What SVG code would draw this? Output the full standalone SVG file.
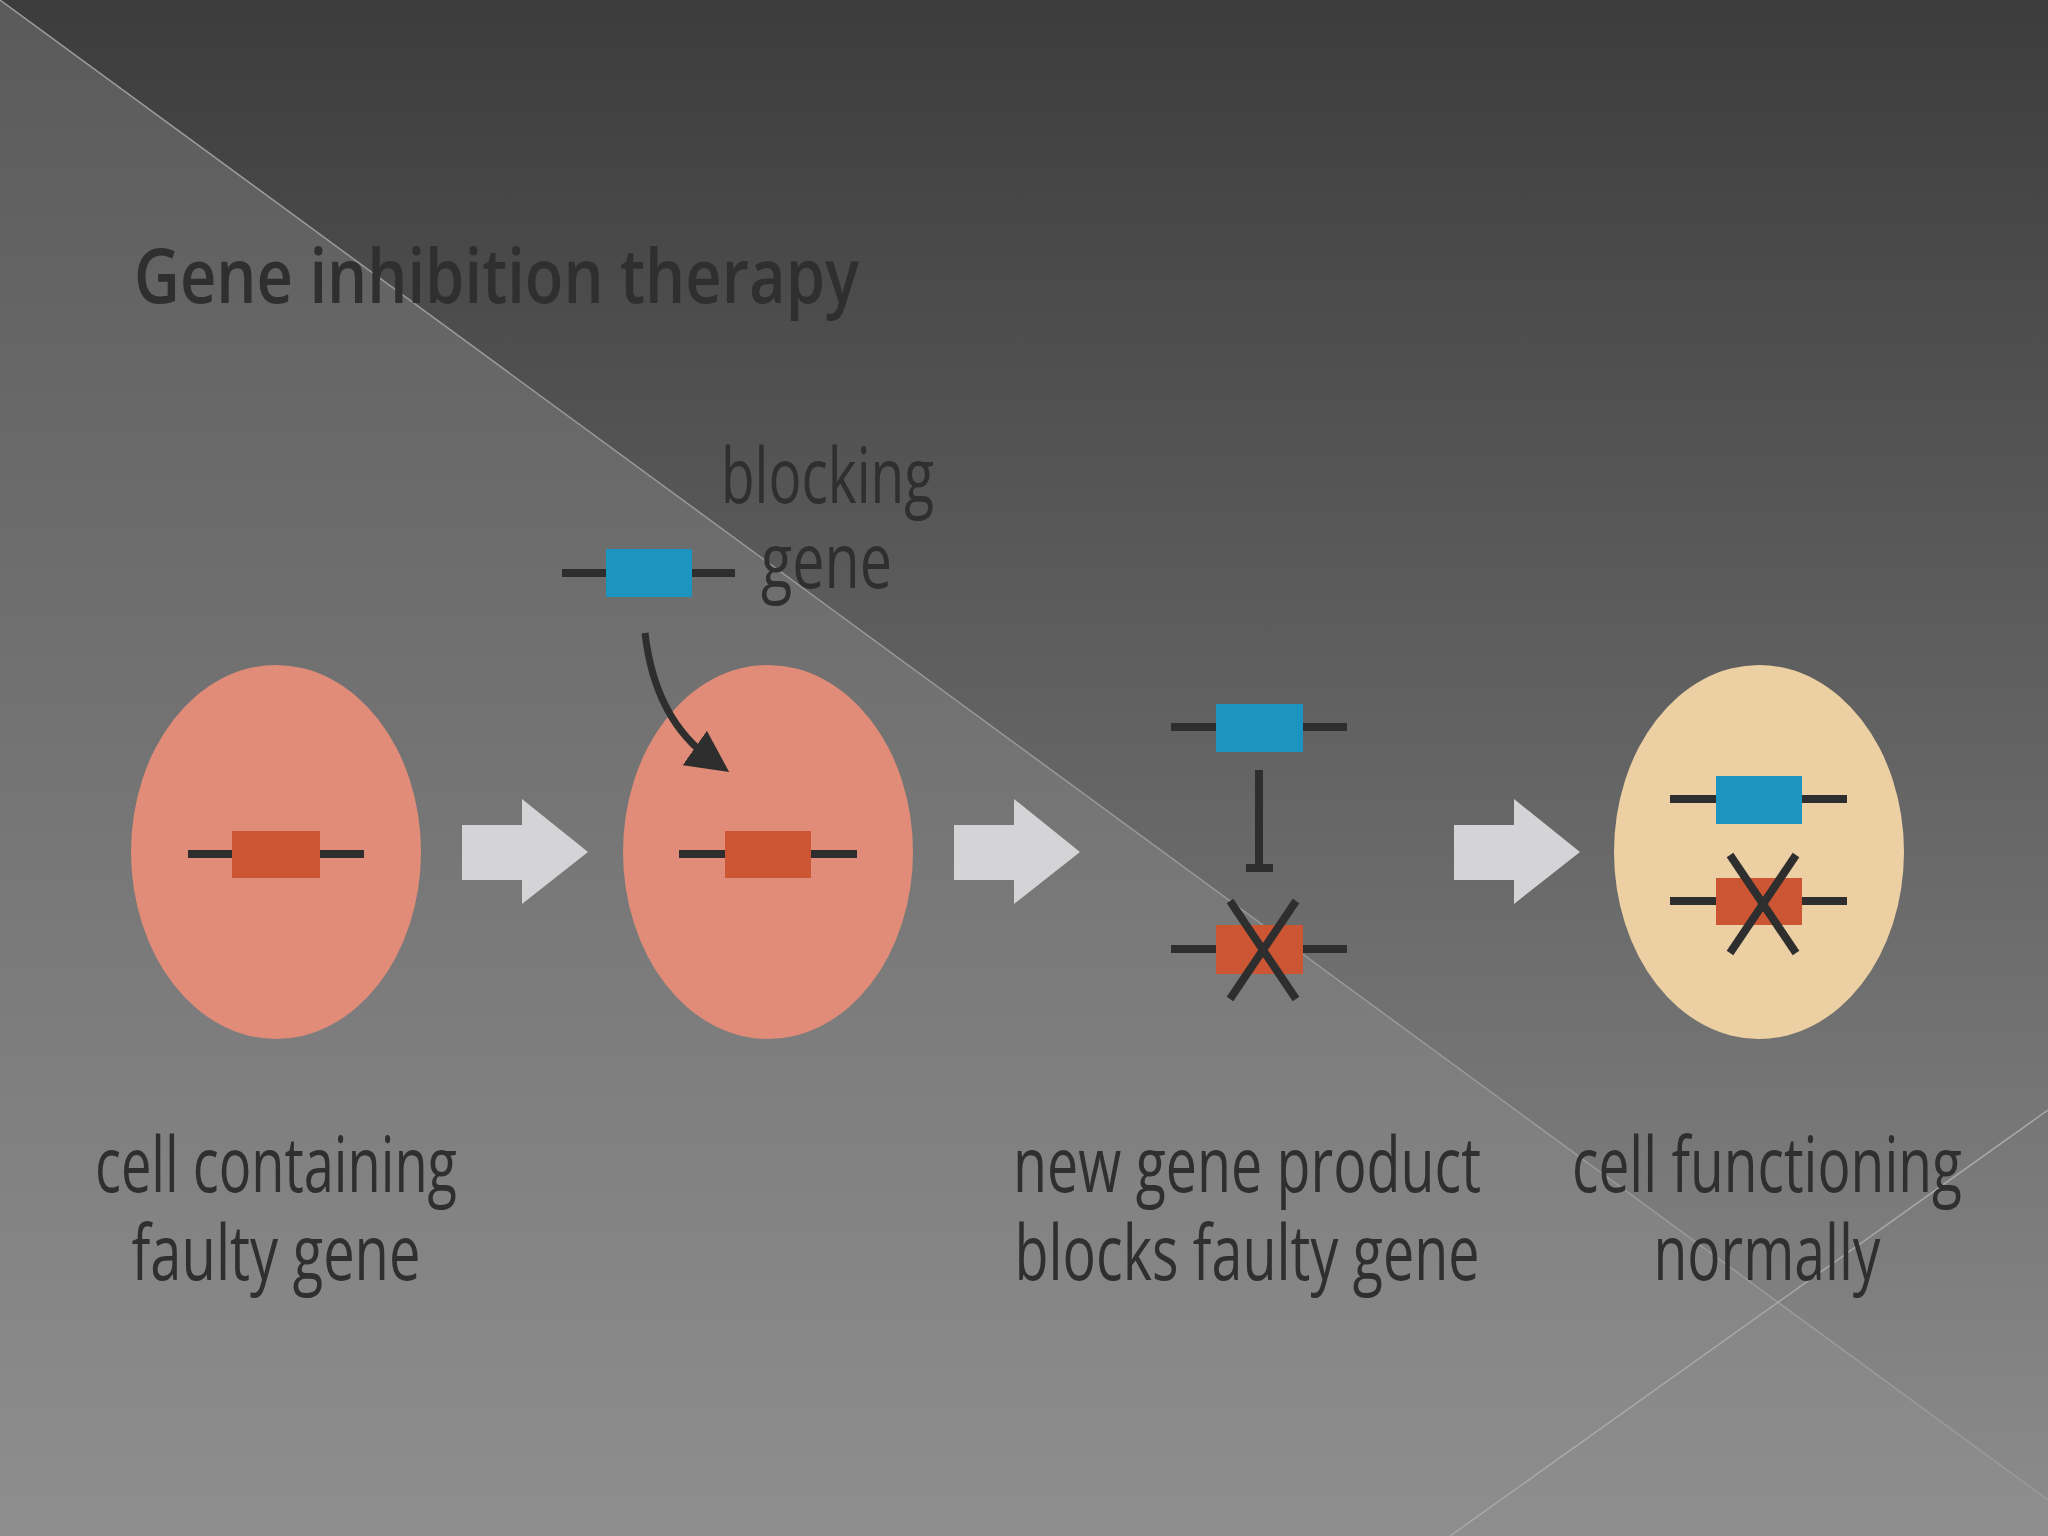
<svg xmlns="http://www.w3.org/2000/svg" width="2048" height="1536" viewBox="0 0 2048 1536">
<defs>
<linearGradient id="bg" x1="0" y1="0" x2="0" y2="1"><stop offset="0" stop-color="#3c3c3c"/><stop offset="1" stop-color="#8c8c8c"/></linearGradient>
<linearGradient id="bg2" x1="0" y1="0" x2="0" y2="1"><stop offset="0" stop-color="#5a5a5a"/><stop offset="1" stop-color="#8e8e8e"/></linearGradient>
<marker id="ah" markerWidth="6" markerHeight="6" refX="3" refY="3" orient="auto" markerUnits="strokeWidth"><path d="M0,0 L6,3 L0,6 z" fill="#2e2e2e"/></marker>
<style>
.t{font-family:"Open Sans","Liberation Sans",sans-serif;fill:#2f2f2f;font-size:76px}
.ln{stroke:#2e2e2e;stroke-width:8}
.red{fill:#cc5634}
.blue{fill:#1b95c0}
.arr{fill:#d4d3d6}
</style>
</defs>
<rect width="2048" height="1536" fill="url(#bg)"/>
<polygon points="0,0 2048,1500 2048,1536 0,1536" fill="url(#bg2)"/>
<line x1="0" y1="0" x2="2048" y2="1500" stroke="#9a9a9a" stroke-width="1.5"/>
<line x1="1450" y1="1536" x2="2048" y2="1110" stroke="#a8a8a8" stroke-width="1.5"/>
<text class="t" x="134" y="303" font-size="84" font-weight="600" textLength="725" lengthAdjust="spacingAndGlyphs">Gene inhibition therapy</text>
<g id="cell1">
<ellipse cx="276" cy="852" rx="145" ry="187" fill="#e08c78"/>
<line class="ln" x1="188" y1="854" x2="364" y2="854"/>
<rect class="red" x="232" y="831" width="88" height="47"/>
</g>
<g id="cell2">
<ellipse cx="768" cy="852" rx="145" ry="187" fill="#e08c78"/>
<line class="ln" x1="679" y1="854" x2="857" y2="854"/>
<rect class="red" x="725" y="831" width="86" height="47"/>
</g>
<g id="blocking">
<line class="ln" x1="562" y1="573" x2="735" y2="573"/>
<rect class="blue" x="606" y="549" width="86" height="48"/>
<text class="t" x="721" y="503" textLength="213" lengthAdjust="spacingAndGlyphs">blocking</text>
<text class="t" x="761" y="588" textLength="131" lengthAdjust="spacingAndGlyphs">gene</text>
</g>
<g id="middle">
<line class="ln" x1="1171" y1="727" x2="1347" y2="727"/>
<rect class="blue" x="1216" y="704" width="87" height="48"/>
<line class="ln" x1="1259" y1="770" x2="1259" y2="868"/>
<line class="ln" x1="1246" y1="868" x2="1273" y2="868"/>
<line class="ln" x1="1171" y1="949" x2="1347" y2="949"/>
<rect class="red" x="1216" y="925" width="87" height="49"/>
<line class="ln" x1="1230" y1="901" x2="1296" y2="999"/>
<line class="ln" x1="1296" y1="901" x2="1230" y2="999"/>
</g>
<g id="cell4">
<ellipse cx="1759" cy="852" rx="145" ry="187" fill="#ecd0a4"/>
<line class="ln" x1="1670" y1="799" x2="1847" y2="799"/>
<rect class="blue" x="1716" y="776" width="86" height="48"/>
<line class="ln" x1="1670" y1="901" x2="1847" y2="901"/>
<rect class="red" x="1716" y="878" width="86" height="47"/>
<line class="ln" x1="1730" y1="855" x2="1796" y2="953"/>
<line class="ln" x1="1796" y1="855" x2="1730" y2="953"/>
</g>
<g id="connectors">
<polygon class="arr" points="462,825 522,825 522,799 588,852 522,904 522,880 462,880"/>
<polygon class="arr" points="954,825 1014,825 1014,799 1080,852 1014,904 1014,880 954,880"/>
<polygon class="arr" points="1454,825 1514,825 1514,799 1580,852 1514,904 1514,880 1454,880"/>
<path d="M645,633 Q655,720 712,760" fill="none" stroke="#2e2e2e" stroke-width="7" marker-end="url(#ah)"/>
</g>
<g id="labels">
<text class="t" x="276" y="1192" text-anchor="middle" textLength="362" lengthAdjust="spacingAndGlyphs">cell containing</text>
<text class="t" x="276" y="1280" text-anchor="middle" textLength="289" lengthAdjust="spacingAndGlyphs">faulty gene</text>
<text class="t" x="1247" y="1192" text-anchor="middle" textLength="468" lengthAdjust="spacingAndGlyphs">new gene product</text>
<text class="t" x="1247" y="1280" text-anchor="middle" textLength="465" lengthAdjust="spacingAndGlyphs">blocks faulty gene</text>
<text class="t" x="1767" y="1192" text-anchor="middle" textLength="390" lengthAdjust="spacingAndGlyphs">cell functioning</text>
<text class="t" x="1767" y="1280" text-anchor="middle" textLength="227" lengthAdjust="spacingAndGlyphs">normally</text>
</g>
</svg>
